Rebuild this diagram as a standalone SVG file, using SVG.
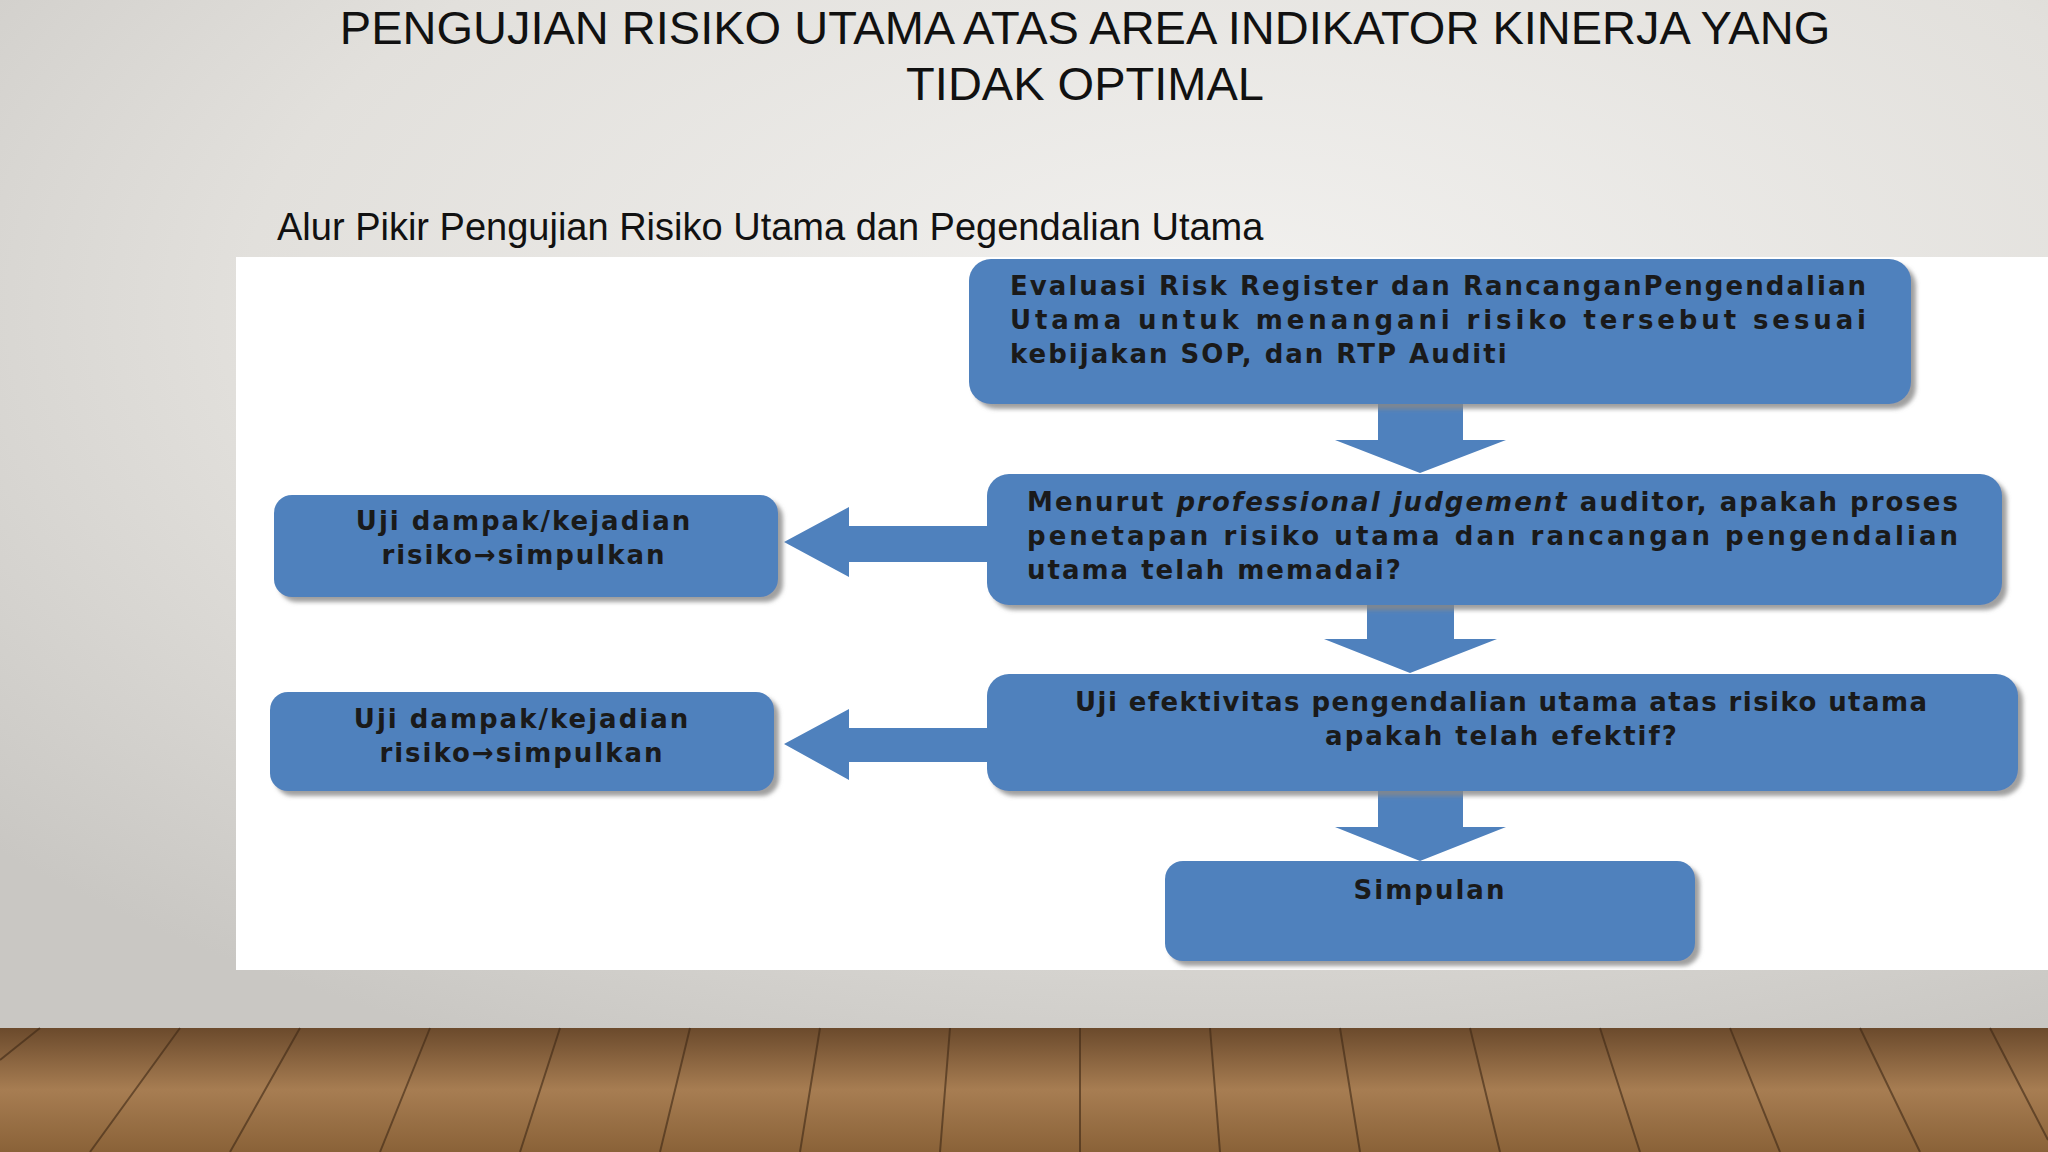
<svg xmlns="http://www.w3.org/2000/svg" width="2048" height="1152" viewBox="0 0 2048 1152">
<defs>
<radialGradient id="wall" cx="0.6" cy="0.3" r="0.8"><stop offset="0" stop-color="#f2f1ef"/><stop offset="0.6" stop-color="#e2e0dc"/><stop offset="1" stop-color="#c9c7c3"/></radialGradient>
<linearGradient id="floor" x1="0" y1="0" x2="0" y2="1"><stop offset="0" stop-color="#6b4a2c"/><stop offset="0.5" stop-color="#a77d52"/><stop offset="1" stop-color="#8a6238"/></linearGradient>
<filter id="sh" x="-5%" y="-5%" width="112%" height="120%"><feDropShadow dx="5" dy="5" stdDeviation="2" flood-color="#888" flood-opacity="0.8"/></filter>
</defs>
<style>
.b{fill:#4f81bd;filter:url(#sh)}
.a{fill:#4f81bd}
.t{font-family:"DejaVu Sans",sans-serif;font-size:26px;font-weight:bold;fill:#1a1a1a;letter-spacing:2px}
.h{font-family:"Liberation Sans",sans-serif;fill:#111}
</style>
<rect width="2048" height="1028" fill="url(#wall)"/>
<rect y="1028" width="2048" height="124" fill="url(#floor)"/>
<g stroke="#3e2815" stroke-width="2" opacity="0.6">
<path d="M0 1060 L40 1028 M90 1152 L180 1028 M230 1152 L300 1028 M380 1152 L430 1028 M520 1152 L560 1028 M660 1152 L690 1028 M800 1152 L820 1028 M940 1152 L950 1028 M1080 1152 L1080 1028 M1220 1152 L1210 1028 M1360 1152 L1340 1028 M1500 1152 L1470 1028 M1640 1152 L1600 1028 M1780 1152 L1730 1028 M1920 1152 L1860 1028 M2048 1140 L1990 1028"/>
</g>
<text class="h" x="1085" y="44" font-size="47" text-anchor="middle">PENGUJIAN RISIKO UTAMA ATAS AREA INDIKATOR KINERJA YANG</text>
<text class="h" x="1085" y="100" font-size="47" text-anchor="middle">TIDAK OPTIMAL</text>
<text class="h" x="277" y="240" font-size="38">Alur Pikir Pengujian Risiko Utama dan Pegendalian Utama</text>
<rect x="236" y="257" width="1812" height="713" fill="#fff"/>
<g id="connectors">
<polygon class="a" points="1378,404 1463,404 1463,440 1506,440 1420,473 1335,440 1378,440"/>
<polygon class="a" points="1367,605 1454,605 1454,639 1497,639 1410,673 1324,639 1367,639"/>
<polygon class="a" points="1378,791 1463,791 1463,827 1506,827 1420,861 1335,827 1378,827"/>
<polygon class="a" points="987,526 849,526 849,507 784,542 849,577 849,562 987,562"/>
<polygon class="a" points="987,728 849,728 849,709 784,744 849,780 849,762 987,762"/>
</g>
<g id="n1"><rect class="b" x="969" y="259" width="942" height="145" rx="22"/>
<text class="t" x="1010" y="295" textLength="858" lengthAdjust="spacing">Evaluasi Risk Register dan RancanganPengendalian</text>
<text class="t" x="1010" y="329" textLength="858" lengthAdjust="spacing">Utama untuk menangani risiko tersebut sesuai</text>
<text class="t" x="1010" y="363">kebijakan  SOP, dan RTP Auditi</text></g>
<g id="n2"><rect class="b" x="987" y="474" width="1015" height="131" rx="22"/>
<text class="t" x="1027" y="511" textLength="933" lengthAdjust="spacing">Menurut <tspan font-style="italic">professional judgement</tspan> auditor, apakah proses</text>
<text class="t" x="1027" y="545" textLength="933" lengthAdjust="spacing">penetapan risiko utama dan rancangan pengendalian</text>
<text class="t" x="1027" y="579">utama telah memadai?</text></g>
<g id="n3"><rect class="b" x="274" y="495" width="504" height="102" rx="18"/>
<text class="t" x="524" y="530" text-anchor="middle">Uji dampak/kejadian</text>
<text class="t" x="524" y="564" text-anchor="middle">risiko→simpulkan</text></g>
<g id="n4"><rect class="b" x="987" y="674" width="1031" height="117" rx="22"/>
<text class="t" x="1502" y="711" text-anchor="middle" textLength="854" lengthAdjust="spacing">Uji efektivitas pengendalian utama atas risiko utama</text>
<text class="t" x="1502" y="745" text-anchor="middle">apakah telah efektif?</text></g>
<g id="n5"><rect class="b" x="270" y="692" width="504" height="99" rx="18"/>
<text class="t" x="522" y="728" text-anchor="middle">Uji dampak/kejadian</text>
<text class="t" x="522" y="762" text-anchor="middle">risiko→simpulkan</text></g>
<g id="n6"><rect class="b" x="1165" y="861" width="530" height="100" rx="18"/>
<text class="t" x="1430" y="899" text-anchor="middle">Simpulan</text></g>
</svg>
